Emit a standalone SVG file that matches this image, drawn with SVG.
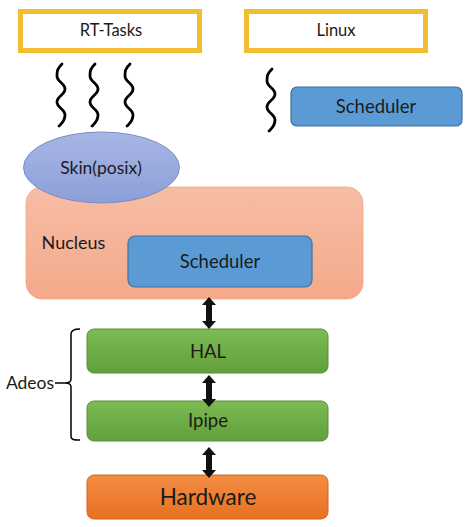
<svg xmlns="http://www.w3.org/2000/svg" width="468" height="527" viewBox="0 0 468 527">
<defs>
<style>
text{font-family:Lato,"Open Sans","Liberation Sans",sans-serif;fill:#1b1b1b;text-anchor:middle}
.top{fill:#fff;stroke:#F0BE30;stroke-width:5}
.sq{fill:none;stroke:#000;stroke-width:2.8;stroke-linecap:round}
.sch{fill:#5B9BD5;stroke:#41719C;stroke-width:1.2}
.grn{fill:url(#gG);stroke:#5A8C3A;stroke-width:1}
.arr{fill:#111}
</style>
<linearGradient id="gSkin" x1="0" y1="0" x2="0" y2="1"><stop offset="0" stop-color="#A8B6E4"/><stop offset="1" stop-color="#8B9FD8"/></linearGradient>
<linearGradient id="gNuc" x1="0" y1="0" x2="0" y2="1"><stop offset="0" stop-color="#F7BDA5"/><stop offset="1" stop-color="#F4A98A"/></linearGradient>
<linearGradient id="gG" x1="0" y1="0" x2="0" y2="1"><stop offset="0" stop-color="#7CBA52"/><stop offset="1" stop-color="#62A03D"/></linearGradient>
<linearGradient id="gH" x1="0" y1="0" x2="0" y2="1"><stop offset="0" stop-color="#F28C44"/><stop offset="1" stop-color="#E8711F"/></linearGradient>
</defs>
<g id="rt-tasks"><rect class="top" x="20.5" y="11.5" width="179" height="39"/><text x="111" y="36" font-size="16.5">RT-Tasks</text></g>
<g id="linux"><rect class="top" x="246.5" y="11.5" width="179" height="39"/><text x="336" y="36" font-size="16.5">Linux</text></g>
<g id="threads">
<path class="sq" d="M62,64 C57,69 57,71 57,76 C57,82 65,83 65,89 C65,95 57,96 57,102 C57,108 65,109 65,115 C65,121 62,123 59,126"/>
<path class="sq" d="M95,64 C90,69 90,71 90,76 C90,82 98,83 98,89 C98,95 90,96 90,102 C90,108 98,109 98,115 C98,121 95,123 92,126"/>
<path class="sq" d="M130,64 C125,69 125,71 125,76 C125,82 133,83 133,89 C133,95 125,96 125,102 C125,108 133,109 133,115 C133,121 130,123 127,126"/>
<path class="sq" d="M272,69 C267,74 267,76 267,81 C267,87 275,88 275,94 C275,100 267,101 267,107 C267,113 275,114 275,120 C275,126 272,128 269,131"/>
</g>
<g id="linux-scheduler"><rect class="sch" x="291" y="87" width="171" height="39" rx="6"/><text x="376" y="113" font-size="18.5">Scheduler</text></g>
<g id="nucleus"><rect x="26" y="187" width="337" height="112" rx="16" fill="url(#gNuc)" stroke="#F2A587" stroke-width="0.8"/><text x="73.5" y="249" font-size="18">Nucleus</text></g>
<g id="skin"><ellipse cx="101.5" cy="167.5" rx="78" ry="35.5" fill="url(#gSkin)" stroke="#7A8CC6" stroke-width="1"/><text x="101" y="174" font-size="17.5">Skin(posix)</text></g>
<g id="nucleus-scheduler"><rect class="sch" x="128" y="236" width="184" height="51" rx="7"/><text x="220" y="268" font-size="18.5">Scheduler</text></g>
<g id="hal"><rect class="grn" x="87" y="329" width="241" height="44" rx="7"/><text x="208" y="358" font-size="18.5">HAL</text></g>
<g id="ipipe"><rect class="grn" x="87" y="401" width="241" height="40" rx="7"/><text x="208" y="427" font-size="18.5">Ipipe</text></g>
<g id="hardware"><rect x="87" y="475" width="241" height="44" rx="7" fill="url(#gH)" stroke="#D0661E" stroke-width="1"/><text x="208" y="505" font-size="22.5">Hardware</text></g>
<g id="adeos"><text x="30" y="389" font-size="17.5">Adeos</text>
<path d="M55,383 H65 M80,329 C74,329 71,330 71,334 V379 C71,382 68,383 65,383 C68,383 71,384 71,387 V436 C71,440 74,440 80,440" fill="none" stroke="#000" stroke-width="1.5"/></g>
<g id="connectors">
<path class="arr" d="M209,297 L216,305 H212 V321 H216 L209,329 L202,321 H206 V305 H202 Z"/>
<path class="arr" d="M209,375 L216,383 H212 V399 H216 L209,407 L202,399 H206 V383 H202 Z"/>
<path class="arr" d="M209,447 L216,455 H212 V470 H216 L209,478 L202,470 H206 V455 H202 Z"/>
</g>
</svg>
